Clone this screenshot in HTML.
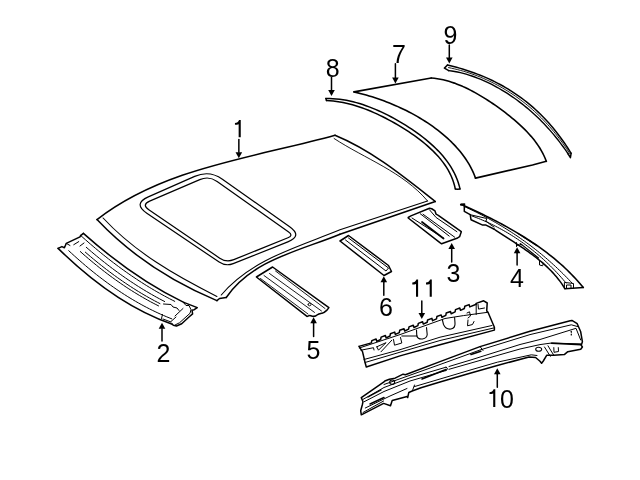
<!DOCTYPE html>
<html><head><meta charset="utf-8"><style>
html,body{margin:0;padding:0;background:#fff;}
svg{position:absolute;left:0;top:0;}
text{font-family:"Liberation Sans",sans-serif;font-size:25px;fill:#000;}
svg{will-change:transform;}
</style></head><body>
<svg width="640" height="480" viewBox="0 0 640 480">
<g stroke="#000" stroke-linejoin="round" stroke-linecap="round">
<path d="M97.00,219.60 C164.45,167.16 255.20,157.53 335.00,135.30" stroke-width="1.5" fill="none"/>
<path d="M335.00,135.30 C372.33,150.74 403.88,176.76 435.30,201.50" stroke-width="1.5" fill="none"/>
<path d="M435.30,201.50 L340.00,234.20" stroke-width="1.5" fill="none"/>
<path d="M340.00,234.20 C300.43,250.58 252.28,259.57 226.25,297.50" stroke-width="1.5" fill="none"/>
<path d="M226.25,297.50 L219.50,298.50 L216.90,300.60" stroke-width="1.5" fill="none"/>
<path d="M216.90,300.60 C172.03,281.83 130.54,255.04 97.00,219.60" stroke-width="1.5" fill="none"/>
<path d="M103.10,218.00 C135.07,252.40 175.35,275.65 216.90,296.40" stroke-width="1.1" fill="none"/>
<path d="M221.25,295.00 C251.35,259.20 298.55,246.79 340.00,229.80 L427.5,200.9" stroke-width="1.1" fill="none"/>
<path d="M427.50,200.90 C402.76,171.67 365.18,158.91 334.10,138.50" stroke-width="0.9" fill="none"/>
<path d="M146.82,213.20 Q132.73,203.68 148.29,196.83 L194.69,176.39 Q209.33,169.94 222.39,179.18 L289.65,226.77 Q302.71,236.01 287.84,241.91 L233.20,263.58 Q225.77,266.53 219.14,262.05Z" stroke-width="1.2" fill="none"/>
<path d="M148.82,209.80 Q141.38,204.73 149.65,201.17 L199.77,179.62 Q208.95,175.67 217.12,181.45 L288.64,232.05 Q293.53,235.51 287.97,237.76 L233.77,259.66 Q226.35,262.65 219.74,258.15Z" stroke-width="1.2" fill="none"/>
<path d="M354.00,91.90 L431.25,78.00" stroke-width="1.6" fill="none"/>
<path d="M431.25,78.00 L434.32,78.30 L437.33,78.71 L440.28,79.22 L443.19,79.83 L446.06,80.53 L448.88,81.31 L451.67,82.18 L454.43,83.12 L457.15,84.14 L459.84,85.22 L462.51,86.36 L465.15,87.57 L467.77,88.83 L470.38,90.14 L472.96,91.49 L475.52,92.90 L478.07,94.34 L480.60,95.83 L483.12,97.35 L485.62,98.91 L488.11,100.50 L490.59,102.12 L493.04,103.78 L495.49,105.46 L497.91,107.17 L500.32,108.91 L502.71,110.68 L505.08,112.48 L507.43,114.30 L509.76,116.15 L512.06,118.02 L514.33,119.93 L516.57,121.86 L518.78,123.83 L520.95,125.82 L523.08,127.85 L525.16,129.92 L527.20,132.02 L529.19,134.17 L531.12,136.35 L532.99,138.59 L534.80,140.87 L536.54,143.20 L538.20,145.59 L539.79,148.03 L541.28,150.54 L542.69,153.12 L544.00,155.77 L545.21,158.49 L546.30,161.30" stroke-width="1.6" fill="none"/>
<path d="M546.30,161.30 L532.50,165.00 L475.50,178.10" stroke-width="1.6" fill="none"/>
<path d="M354.00,91.90 L357.08,92.65 L360.14,93.43 L363.17,94.24 L366.17,95.08 L369.15,95.95 L372.11,96.86 L375.04,97.80 L377.96,98.78 L380.86,99.79 L383.74,100.84 L386.61,101.92 L389.46,103.04 L392.29,104.20 L395.11,105.40 L397.92,106.63 L400.71,107.91 L403.48,109.22 L406.24,110.58 L408.98,111.97 L411.71,113.41 L414.42,114.89 L417.11,116.41 L419.78,117.97 L422.43,119.58 L425.05,121.23 L427.66,122.93 L430.23,124.67 L432.78,126.46 L435.30,128.29 L437.78,130.17 L440.23,132.09 L442.64,134.07 L445.01,136.09 L447.34,138.16 L449.62,140.27 L451.85,142.44 L454.02,144.65 L456.14,146.92 L458.20,149.23 L460.19,151.60 L462.11,154.02 L463.96,156.48 L465.72,159.00 L467.41,161.57 L469.01,164.19 L470.51,166.87 L471.92,169.60 L473.23,172.38 L474.42,175.21 L475.50,178.10" stroke-width="1.6" fill="none"/>
<path d="M325.90,98.50 L329.41,98.50 L332.89,98.63 L336.32,98.88 L339.72,99.25 L343.08,99.72 L346.42,100.30 L349.72,100.98 L353.01,101.75 L356.27,102.61 L359.51,103.56 L362.72,104.58 L365.93,105.68 L369.11,106.85 L372.27,108.08 L375.42,109.39 L378.55,110.75 L381.67,112.17 L384.77,113.65 L387.85,115.18 L390.92,116.76 L393.96,118.39 L396.98,120.08 L399.99,121.80 L402.97,123.58 L405.92,125.40 L408.84,127.26 L411.73,129.17 L414.59,131.12 L417.42,133.12 L420.20,135.17 L422.94,137.26 L425.63,139.40 L428.27,141.58 L430.85,143.82 L433.37,146.11 L435.83,148.46 L438.21,150.86 L440.52,153.33 L442.75,155.85 L444.89,158.44 L446.94,161.11 L448.89,163.84 L450.73,166.65 L452.45,169.55 L454.06,172.53 L455.53,175.60 L456.87,178.77 L458.07,182.04 L459.12,185.41 L460.00,188.90" stroke-width="1.5" fill="none"/>
<path d="M326.50,100.60 L329.90,100.76 L333.26,101.04 L336.56,101.43 L339.83,101.91 L343.06,102.50 L346.25,103.17 L349.41,103.93 L352.54,104.77 L355.65,105.69 L358.73,106.68 L361.80,107.74 L364.84,108.86 L367.87,110.04 L370.88,111.29 L373.88,112.58 L376.87,113.93 L379.84,115.33 L382.79,116.78 L385.74,118.27 L388.67,119.81 L391.58,121.39 L394.48,123.01 L397.36,124.67 L400.22,126.38 L403.06,128.12 L405.88,129.90 L408.67,131.73 L411.43,133.59 L414.16,135.49 L416.86,137.44 L419.52,139.43 L422.13,141.46 L424.69,143.54 L427.21,145.67 L429.66,147.85 L432.05,150.08 L434.38,152.37 L436.63,154.71 L438.80,157.12 L440.88,159.60 L442.87,162.14 L444.76,164.76 L446.54,167.45 L448.21,170.23 L449.75,173.09 L451.16,176.05 L452.43,179.10 L453.55,182.26 L454.51,185.52 L455.30,188.90" stroke-width="1.5" fill="none"/>
<path d="M455.30,188.90 L457.50,189.30 L460.00,188.90" stroke-width="1.5" fill="none"/>
<path d="M325.90,98.50 L326.50,100.60" stroke-width="1.5" fill="none"/>
<path d="M447.50,65.00 L450.51,65.73 L453.52,66.49 L456.52,67.30 L459.52,68.15 L462.52,69.03 L465.50,69.96 L468.48,70.93 L471.44,71.94 L474.40,73.00 L477.33,74.10 L480.25,75.24 L483.16,76.43 L486.04,77.66 L488.91,78.94 L491.75,80.27 L494.57,81.64 L497.36,83.06 L500.13,84.52 L502.88,86.03 L505.59,87.58 L508.28,89.18 L510.94,90.83 L513.56,92.52 L516.16,94.26 L518.72,96.04 L521.25,97.87 L523.75,99.74 L526.22,101.66 L528.64,103.62 L531.04,105.62 L533.39,107.66 L535.71,109.75 L538.00,111.88 L540.25,114.04 L542.46,116.25 L544.63,118.49 L546.76,120.77 L548.86,123.09 L550.92,125.44 L552.94,127.83 L554.92,130.25 L556.87,132.70 L558.78,135.19 L560.65,137.70 L562.48,140.24 L564.28,142.80 L566.04,145.39 L567.76,148.01 L569.45,150.64 L571.10,153.30" stroke-width="1.5" fill="none"/>
<path d="M448.75,70.60 L451.67,71.00 L454.58,71.48 L457.49,72.04 L460.39,72.68 L463.27,73.40 L466.15,74.20 L469.01,75.06 L471.86,75.99 L474.69,76.99 L477.50,78.05 L480.30,79.17 L483.07,80.35 L485.83,81.58 L488.56,82.87 L491.27,84.21 L493.95,85.60 L496.62,87.03 L499.25,88.51 L501.86,90.04 L504.44,91.61 L507.00,93.21 L509.53,94.86 L512.02,96.55 L514.49,98.27 L516.93,100.02 L519.34,101.82 L521.72,103.64 L524.07,105.50 L526.38,107.39 L528.67,109.31 L530.93,111.26 L533.15,113.24 L535.34,115.25 L537.51,117.29 L539.64,119.36 L541.74,121.46 L543.81,123.59 L545.85,125.74 L547.86,127.93 L549.84,130.14 L551.80,132.38 L553.72,134.66 L555.62,136.96 L557.49,139.30 L559.34,141.66 L561.16,144.06 L562.95,146.49 L564.72,148.96 L566.47,151.46 L568.20,154.00" stroke-width="1.4" fill="none"/>
<path d="M448.50,67.60 L451.46,68.20 L454.42,68.86 L457.37,69.57 L460.32,70.35 L463.26,71.17 L466.18,72.05 L469.09,72.98 L471.99,73.97 L474.88,75.00 L477.74,76.09 L480.59,77.23 L483.42,78.42 L486.23,79.66 L489.02,80.94 L491.79,82.27 L494.54,83.65 L497.26,85.07 L499.95,86.54 L502.62,88.06 L505.26,89.62 L507.88,91.22 L510.46,92.86 L513.02,94.55 L515.54,96.27 L518.04,98.04 L520.51,99.85 L522.94,101.70 L525.34,103.58 L527.71,105.50 L530.05,107.46 L532.35,109.46 L534.62,111.49 L536.86,113.56 L539.06,115.67 L541.23,117.80 L543.37,119.98 L545.47,122.18 L547.54,124.42 L549.58,126.69 L551.58,128.99 L553.54,131.32 L555.48,133.68 L557.38,136.07 L559.25,138.49 L561.09,140.94 L562.89,143.42 L564.66,145.92 L566.41,148.46 L568.12,151.02 L569.80,153.60" stroke-width="0.9" fill="none"/>
<path d="M571.10,153.30 L570.40,157.70 L568.20,154.00" stroke-width="1.5" fill="none"/>
<path d="M447.50,65.00 L444.40,68.10 L448.75,70.60" stroke-width="1.5" fill="none"/>
<path d="M58.10,248.40 L61.90,246.60 L64.40,247.80 L65.60,245.00 L66.25,243.40 L80.00,236.90 L80.60,235.60 L83.40,233.40" stroke-width="1.5" fill="none"/>
<path d="M83.4,233.4 Q133.6,278.1 183.75,302.4" stroke-width="1.5" fill="none"/>
<path d="M183.75,302.40 L197.30,307.60 L194.20,309.70 L192.00,310.20 L192.60,313.90 L189.00,317.00 L181.70,323.75 L176.50,326.00 L173.30,325.30 L172.30,324.30" stroke-width="1.5" fill="none"/>
<path d="M58.1,248.4 Q115.2,304.4 172.3,324.3" stroke-width="1.5" fill="none"/>
<path d="M80.36,235.20 L82.92,237.49 L85.47,239.75 L88.02,241.98 L90.57,244.19 L93.12,246.37 L95.67,248.52 L98.22,250.64 L100.77,252.73 L103.32,254.80 L105.88,256.84 L108.43,258.85 L110.98,260.83 L113.53,262.78 L116.08,264.71 L118.63,266.61 L121.18,268.48 L123.73,270.32 L126.28,272.14 L128.83,273.93 L131.38,275.69 L133.93,277.42 L136.48,279.12 L139.03,280.80 L141.58,282.44 L144.13,284.07 L146.68,285.66 L149.23,287.22 L151.78,288.76 L154.33,290.27 L156.88,291.75 L159.43,293.20 L161.98,294.63 L164.53,296.03 L167.08,297.40 L169.63,298.74 L172.18,300.05 L174.73,301.34" stroke-width="1.0" fill="none"/>
<path d="M86.26,247.27 L88.88,249.53 L91.49,251.76 L94.10,253.96 L96.72,256.13 L99.33,258.27 L101.94,260.38 L104.56,262.45 L107.17,264.49 L109.78,266.51 L112.39,268.49 L115.01,270.44 L117.62,272.35 L120.23,274.24 L122.85,276.10 L125.46,277.92 L128.07,279.71 L130.68,281.47 L133.30,283.20 L135.91,284.90 L138.52,286.57 L141.13,288.20 L143.75,289.81 L146.36,291.38 L148.97,292.92 L151.58,294.43 L154.20,295.91 L156.81,297.36 L159.42,298.77 L162.03,300.16 L164.64,301.51" stroke-width="1.0" fill="none"/>
<path d="M85.34,252.17 L88.01,254.47 L90.67,256.73 L93.34,258.97 L96.00,261.16 L98.67,263.33 L101.33,265.45 L104.00,267.55 L106.66,269.61 L109.33,271.64 L111.99,273.63 L114.65,275.58 L117.32,277.51 L119.98,279.39 L122.65,281.25 L125.31,283.07 L127.98,284.85 L130.64,286.61 L133.31,288.32 L135.97,290.00 L138.64,291.65 L141.30,293.27 L143.96,294.85 L146.63,296.39 L149.29,297.90 L151.96,299.38 L154.62,300.82 L157.29,302.23 L159.95,303.60" stroke-width="1.0" fill="none"/>
<path d="M80.28,251.54 L82.98,253.93 L85.68,256.27 L88.38,258.58 L91.08,260.85 L93.78,263.09 L96.48,265.29 L99.18,267.46 L101.88,269.59 L104.58,271.68 L107.28,273.73 L109.98,275.75 L112.68,277.74 L115.38,279.68 L118.08,281.59 L120.78,283.47 L123.47,285.31 L126.17,287.11 L128.87,288.87 L131.57,290.60 L134.27,292.30 L136.97,293.95 L139.67,295.57 L142.37,297.16 L145.07,298.70 L147.77,300.22 L150.46,301.69 L153.16,303.13 L155.86,304.53 L158.56,305.90" stroke-width="1.0" fill="none"/>
<path d="M68.73,250.69 L71.52,253.28 L74.30,255.82 L77.09,258.32 L79.88,260.78 L82.66,263.20 L85.45,265.58 L88.23,267.91 L91.02,270.21 L93.81,272.46 L96.59,274.68 L99.38,276.85 L102.16,278.98 L104.95,281.07 L107.73,283.12 L110.52,285.13 L113.31,287.09 L116.09,289.02 L118.88,290.90 L121.66,292.74 L124.45,294.54 L127.23,296.30 L130.02,298.02 L132.81,299.70 L135.59,301.34 L138.38,302.93 L141.16,304.49 L143.95,306.00 L146.73,307.47 L149.52,308.90 L152.31,310.29 L155.09,311.64 L157.88,312.94 L160.66,314.21 L163.45,315.43 L166.23,316.62 L169.02,317.76 L171.80,318.86" stroke-width="1.0" fill="none"/>
<path d="M73.75,244.70 L78.75,241.60" stroke-width="1.0" fill="none"/>
<path d="M80.00,246.00 L84.00,243.00" stroke-width="1.0" fill="none"/>
<path d="M66.50,243.50 L70.00,245.50" stroke-width="1.0" fill="none"/>
<path d="M163.50,304.00 L171.00,304.50 L173.00,307.00 L177.00,308.00 L179.00,310.50" stroke-width="1.0" fill="none"/>
<path d="M183.50,302.50 L186.00,305.50 L189.00,305.50 L191.00,309.70 L190.00,313.30 L187.00,316.00 L179.60,322.70 L175.40,324.80" stroke-width="1.0" fill="none"/>
<path d="M175.00,316.00 L183.00,308.50" stroke-width="1.0" fill="none"/>
<path d="M161.50,318.50 L162.50,314.50" stroke-width="1.0" fill="none"/>
<path d="M163.00,319.00 L171.00,322.00" stroke-width="1.0" fill="none"/>
<path d="M171.00,321.50 L176.00,317.00" stroke-width="1.0" fill="none"/>
<path d="M256.4,277 L272.6,267 L328.9,307.6 L327,310.1 C325.5,311.5 324,312.8 322,313.25 C320,313.6 318.5,313.8 317,315 C315.5,316.6 313,316.6 310.75,315.75 C309,315.2 308,316.2 307,316.4 Z" stroke-width="1.5" fill="none"/>
<path d="M260.50,278.50 L308.00,314.00" stroke-width="0.9" fill="none"/>
<path d="M264.00,275.50 L314.50,312.40" stroke-width="0.9" fill="none"/>
<path d="M269.50,273.50 L321.50,311.00" stroke-width="0.9" fill="none"/>
<path d="M275.50,271.00 L325.00,308.50" stroke-width="0.9" fill="none"/>
<path d="M308,304.5 a1.5,1.3 0 1,0 3,0 a1.5,1.3 0 1,0 -3,0" stroke-width="0.9" fill="none"/>
<path d="M340.00,241.00 L348.50,235.50 L388.50,265.50 L391.50,271.50 L384.00,275.50 L340.00,241.00" stroke-width="1.5" fill="none"/>
<path d="M345.50,240.00 L386.00,271.00 L388.50,268.00 L348.50,238.00" stroke-width="1.0" fill="none"/>
<path d="M408.20,217.50 L410.90,215.90 L429.50,208.20 L431.70,208.75 L435.00,210.90 L436.10,214.20 L438.30,215.30 L461.30,231.70 L459.60,236.65 L456.90,238.30 L441.60,243.80 L439.90,242.70 L408.20,218.00" stroke-width="1.5" fill="none"/>
<path d="M412.00,218.00 L443.80,238.30" stroke-width="1.0" fill="none"/>
<path d="M422.00,222.00 L443.50,238.50" stroke-width="1.7" fill="none"/>
<path d="M420.20,213.70 L449.20,236.10" stroke-width="1.0" fill="none"/>
<path d="M423.00,214.20 L454.70,237.20" stroke-width="1.0" fill="none"/>
<path d="M429.50,209.80 L436.10,217.50 L456.90,231.70" stroke-width="1.0" fill="none"/>
<path d="M461.00,204.70 L464.30,204.25" stroke-width="2.2" fill="none"/>
<path d="M461.60,204.50 L464.29,205.72 L466.97,206.95 L469.66,208.20 L472.34,209.45 L475.02,210.71 L477.71,211.99 L480.38,213.27 L483.06,214.57 L485.73,215.89 L488.40,217.21 L491.06,218.55 L493.71,219.91 L496.36,221.28 L499.00,222.66 L501.63,224.07 L504.26,225.49 L506.87,226.92 L509.47,228.38 L512.07,229.85 L514.65,231.34 L517.22,232.85 L519.77,234.39 L522.32,235.94 L524.84,237.51 L527.36,239.10 L529.85,240.72 L532.34,242.36 L534.80,244.02 L537.25,245.71 L539.67,247.42 L542.08,249.15 L544.47,250.91 L546.84,252.70 L549.19,254.51 L551.51,256.35 L553.81,258.21 L556.09,260.11 L558.35,262.03 L560.58,263.98 L562.79,265.96 L564.97,267.97 L567.12,270.01 L569.24,272.08 L571.34,274.19 L573.41,276.32 L575.45,278.49 L577.46,280.69 L579.44,282.93 L581.39,285.20 L583.30,287.50" stroke-width="1.6" fill="none"/>
<path d="M583.30,287.50 L564.90,288.70" stroke-width="1.5" fill="none"/>
<path d="M494.30,229.25 L495.83,230.28 L497.36,231.30 L498.90,232.33 L500.44,233.34 L502.00,234.36 L503.55,235.38 L505.11,236.39 L506.68,237.40 L508.25,238.42 L509.82,239.43 L511.39,240.45 L512.96,241.47 L514.53,242.49 L516.10,243.52 L517.66,244.55 L519.23,245.58 L520.79,246.62 L522.34,247.67 L523.89,248.73 L525.43,249.79 L526.97,250.86 L528.50,251.94 L530.02,253.03 L531.53,254.13 L533.03,255.25 L534.52,256.37 L536.00,257.51 L537.46,258.66 L538.92,259.82 L540.35,261.00 L541.78,262.19 L543.18,263.40 L544.57,264.63 L545.95,265.88 L547.30,267.14 L548.64,268.42 L549.95,269.72 L551.25,271.04 L552.52,272.38 L553.78,273.74 L555.01,275.13 L556.21,276.54 L557.39,277.97 L558.55,279.42 L559.68,280.90 L560.78,282.41 L561.85,283.94 L562.90,285.50 L563.92,287.08 L564.90,288.70" stroke-width="1.5" fill="none"/>
<path d="M464.30,205.90 L464.30,211.30 L470.20,214.70 L471.00,219.70 L482.70,225.10 L486.00,225.10 L494.30,229.25" stroke-width="1.5" fill="none"/>
<path d="M464.29,206.51 L466.76,207.63 L469.21,208.78 L471.65,209.94 L474.08,211.12 L476.50,212.31 L478.91,213.52 L481.31,214.75 L483.69,215.99 L486.07,217.25 L488.43,218.53 L490.78,219.83 L493.12,221.14 L495.45,222.47 L497.76,223.81 L500.07,225.17 L502.36,226.55 L504.64,227.95 L506.90,229.36 L509.16,230.79 L511.40,232.23 L513.63,233.70 L515.85,235.18 L518.05,236.67 L520.24,238.19 L522.42,239.72 L524.59,241.26 L526.74,242.83 L528.88,244.41 L531.01,246.01 L533.12,247.62 L535.22,249.26 L537.31,250.90 L539.38,252.57 L541.44,254.25 L543.49,255.96 L545.52,257.67 L547.54,259.41 L549.54,261.16 L551.53,262.93 L553.51,264.72 L555.47,266.52 L557.42,268.34 L559.35,270.18 L561.27,272.03 L563.17,273.90 L565.06,275.79 L566.94,277.70 L568.80,279.62 L570.65,281.57 L572.48,283.52" stroke-width="1.0" fill="none"/>
<path d="M471.80,215.90 L474.01,216.72 L476.20,217.56 L478.39,218.42 L480.57,219.31 L482.73,220.23 L484.88,221.16 L487.02,222.12 L489.15,223.11 L491.27,224.11 L493.37,225.14 L495.47,226.20 L497.55,227.27 L499.61,228.37 L501.67,229.49 L503.71,230.63 L505.74,231.79 L507.76,232.98 L509.76,234.19 L511.75,235.41 L513.72,236.66 L515.69,237.93 L517.63,239.22 L519.57,240.54 L521.49,241.87 L523.40,243.22 L525.29,244.59 L527.16,245.98 L529.03,247.39 L530.87,248.82 L532.71,250.27 L534.52,251.74 L536.33,253.23 L538.11,254.73 L539.88,256.26 L541.64,257.80 L543.38,259.36 L545.10,260.94 L546.81,262.54 L548.50,264.15 L550.18,265.78 L551.84,267.43 L553.48,269.10 L555.10,270.78 L556.71,272.48 L558.30,274.19 L559.87,275.92 L561.43,277.67 L562.97,279.44 L564.49,281.21 L565.99,283.01" stroke-width="1.0" fill="none"/>
<path d="M470.20,214.70 L486.80,218.50 L486.00,221.00" stroke-width="1.0" fill="none"/>
<path d="M486.00,221.00 L491.00,225.10 L494.00,227.00" stroke-width="1.0" fill="none"/>
<path d="M518.00,233.40 L537.00,245.80" stroke-width="1.2" fill="none"/>
<path d="M520.50,243.60 L538.50,258.00" stroke-width="1.2" fill="none"/>
<path d="M564.40,288.50 L564.40,282.40 L573.50,283.50 L573.50,288.10" stroke-width="1.0" fill="none"/>
<path d="M566.50,288.00 L566.50,285.00 L571.00,285.00 L571.00,288.00" stroke-width="1.0" fill="none"/>
<path d="M539.50,261.00 L539.50,265.00 L542.60,265.80 L543.50,263.20" stroke-width="1.0" fill="none"/>
<path d="M516.50,242.60 L516.50,246.50" stroke-width="1.0" fill="none"/>
<path d="M517.00,245.50 L519.50,244.20 L522.00,245.00" stroke-width="1.0" fill="none"/>
<path d="M358.90,346.40 L371.40,342.90 L371.80,340.60 L376.10,339.01 L376.80,341.31 L380.70,339.46 L381.10,337.16 L385.40,335.57 L386.10,337.87 L390.00,336.02 L390.40,333.72 L394.70,332.13 L395.40,334.43 L399.30,332.58 L399.70,330.28 L404.00,328.69 L404.70,330.99 L408.60,329.14 L409.00,326.84 L413.30,325.25 L414.00,327.55 L417.90,325.69 L418.30,323.39 L422.60,321.80 L423.30,324.10 L427.20,322.25 L427.60,319.95 L431.90,318.36 L432.60,320.66 L436.50,318.81 L436.90,316.51 L441.20,314.92 L441.90,317.22 L445.80,315.37 L446.20,313.07 L450.50,311.48 L451.20,313.78 L455.10,311.93 L455.50,309.63 L459.80,308.04 L460.50,310.34 L464.40,308.49 L464.80,306.19 L469.10,304.60 L469.80,306.90 L476.20,304.27 L476.20,303.40 L483.70,300.80 L487.20,303.00 L486.70,310.90 L488.00,312.20 L494.40,327.30 L494.40,330.10 L440.00,344.70 L400.00,355.90 L366.30,367.00 L365.20,363.00 L362.50,351.70 L358.90,346.40" stroke-width="1.5" fill="none"/>
<path d="M359.30,348.00 L400.00,334.60 L445.00,318.50 L463.40,315.60 L487.80,312.30" stroke-width="1.0" fill="none"/>
<path d="M361.00,350.20 L373.50,347.70 L374.00,350.00" stroke-width="1.0" fill="none"/>
<path d="M364.00,359.50 L400.00,349.70 L440.00,337.20 L492.00,325.50" stroke-width="1.0" fill="none"/>
<path d="M365.00,362.50 L400.00,352.20 L440.00,340.50 L494.40,327.80" stroke-width="1.0" fill="none"/>
<path d="M376.80,346.80 L386.00,342.70 L378.50,350.20 L376.80,346.80" stroke-width="1.0" fill="none"/>
<path d="M381.00,351.80 L391.80,340.20" stroke-width="1.0" fill="none"/>
<path d="M393.50,339.50 L394.50,345.20 L401.80,343.00 L400.50,337.50" stroke-width="1.0" fill="none"/>
<path d="M401.80,336.00 L417.30,336.00" stroke-width="1.0" fill="none"/>
<path d="M416.5,330 L416.8,336 Q418,339.5 422.5,339 Q427,338.2 427.2,334.5 L426.5,327.5" stroke-width="1.1" fill="none"/>
<path d="M442.3,319.5 L443.5,324.5 Q446,329.8 451,329 Q455.5,328 455,323 L454.6,317.5" stroke-width="1.1" fill="none"/>
<path d="M467.00,313.00 L469.50,311.80 L470.50,316.00 L468.00,318.00" stroke-width="1.0" fill="none"/>
<path d="M468.00,320.00 L467.50,325.80 L472.50,324.50 L474.00,321.50" stroke-width="1.0" fill="none"/>
<path d="M476.20,303.40 L476.20,314.50" stroke-width="1.0" fill="none"/>
<path d="M478.00,304.30 L478.50,309.10 L484.50,308.00" stroke-width="1.0" fill="none"/>
<path d="M361.30,397.60 L383.60,382.20 L384.80,381.00 L389.40,379.30 L395.10,378.20 L403.10,374.20 L405.40,374.70 L440.00,361.60 L480.00,346.60 L530.00,331.30 L570.20,320.75 L571.90,320.40 L577.20,323.70 L580.70,331.80 L582.40,341.75 L581.25,345.25 L582.40,347.00 L580.70,349.30 L567.80,351.70 L564.30,354.60 L553.80,355.20 L546.80,355.20 L543.30,361.00 L541.60,363.30 L540.00,361.30 L535.60,357.50 L529.00,357.00 L497.30,365.50 L470.00,373.30 L440.00,382.00 L421.00,387.70 L412.20,391.00 L408.80,392.50 L407.70,397.60 L407.10,396.50 L392.20,400.50 L390.50,405.70 L383.60,403.40 L361.30,414.80 L360.70,410.80 L362.40,404.50 L363.00,401.70 L361.30,397.60" stroke-width="1.5" fill="none"/>
<path d="M384.00,384.50 L405.00,377.00 L440.00,364.50 L480.00,350.00 L530.00,334.60 L571.30,324.80 L577.75,326.60" stroke-width="1.0" fill="none"/>
<path d="M363.00,399.40 L384.00,387.50 L410.00,377.80 L446.00,367.20" stroke-width="1.0" fill="none"/>
<path d="M364.20,401.70 L384.00,391.50 L410.00,381.00 L446.00,370.50" stroke-width="1.0" fill="none"/>
<path d="M446,367.2 Q449.5,368.5 446,370.5" stroke-width="1.0" fill="none"/>
<path d="M422.00,378.90 L446.00,369.40" stroke-width="1.6" fill="none"/>
<path d="M449.00,366.50 L470.00,360.20 L520.00,344.50 L540.00,339.50 L576.00,328.30 L580.70,340.00" stroke-width="1.0" fill="none"/>
<path d="M449.00,369.30 L470.00,363.30 L520.00,349.00 L540.00,344.60 L551.50,343.00 L581.00,344.00" stroke-width="1.0" fill="none"/>
<path d="M551.50,343.20 L581.00,344.60" stroke-width="1.6" fill="none"/>
<path d="M365.30,408.00 L390.00,396.00 L407.00,388.50" stroke-width="1.0" fill="none"/>
<path d="M414.40,386.60 L440.00,379.00 L470.00,370.10 L497.30,362.20 L531.30,354.80 L537.00,355.50" stroke-width="1.0" fill="none"/>
<path d="M363.00,412.50 L383.60,401.00" stroke-width="1.0" fill="none"/>
<path d="M471.00,354.50 L480.80,351.20" stroke-width="1.6" fill="none"/>
<path d="M370.00,404.00 L384.00,397.50" stroke-width="1.5" fill="none"/>
<path d="M368.00,397.00 L381.00,390.00" stroke-width="1.4" fill="none"/>
<path d="M480.00,346.50 L483.00,350.50" stroke-width="1.0" fill="none"/>
<path d="M389.7,382.2 a2.5,2.2 0 1,0 5,0 a2.5,2.2 0 1,0 -5,0" stroke-width="1.1" fill="none"/>
<path d="M535.7,349.3 a3,2 0 1,0 6,0 a3,2 0 1,0 -6,0" stroke-width="1.1" fill="none"/>
<path d="M544.50,347.00 L547.00,351.00 L550.30,356.30" stroke-width="1.0" fill="none"/>
<path d="M548.00,345.80 L550.50,350.00 L553.80,355.20" stroke-width="1.0" fill="none"/>
<path d="M553.80,347.60 L554.00,352.30 L558.50,351.50 L558.30,347.60" stroke-width="1.0" fill="none"/>
<path d="M571.30,331.30 L571.30,332.30" stroke-width="1.2" fill="none"/>
<path d="M571.30,334.00 L571.30,335.00" stroke-width="1.2" fill="none"/>
<path d="M412.50,390.50 L414.50,385.00" stroke-width="1.0" fill="none"/>
<path d="M238.85,139.5 L238.85,152.29999999999998" stroke-width="1.5" fill="none"/>
<path d="M235.54999999999998,152.29999999999998 L242.15,152.29999999999998 L238.85,158.2Z" stroke="none" fill="#000"/>
<path d="M162,341 L162,328.65" stroke-width="1.5" fill="none"/>
<path d="M158.7,328.65 L165.3,328.65 L162,322.75Z" stroke="none" fill="#000"/>
<path d="M451.7,261.9 L451.7,248.9" stroke-width="1.5" fill="none"/>
<path d="M448.4,248.9 L455.0,248.9 L451.7,243Z" stroke="none" fill="#000"/>
<path d="M517.1,265.1 L517.1,253.15" stroke-width="1.5" fill="none"/>
<path d="M513.8000000000001,253.15 L520.4,253.15 L517.1,247.25Z" stroke="none" fill="#000"/>
<path d="M313.6,336.4 L313.6,323.15" stroke-width="1.5" fill="none"/>
<path d="M310.3,323.15 L316.90000000000003,323.15 L313.6,317.25Z" stroke="none" fill="#000"/>
<path d="M383.8,295.3 L383.8,282.15" stroke-width="1.5" fill="none"/>
<path d="M380.5,282.15 L387.1,282.15 L383.8,276.25Z" stroke="none" fill="#000"/>
<path d="M395.4,63.75 L395.4,77.6" stroke-width="1.5" fill="none"/>
<path d="M392.09999999999997,77.6 L398.7,77.6 L395.4,83.5Z" stroke="none" fill="#000"/>
<path d="M331.5,77.6 L331.5,90.1" stroke-width="1.5" fill="none"/>
<path d="M328.2,90.1 L334.8,90.1 L331.5,96Z" stroke="none" fill="#000"/>
<path d="M449.3,45 L449.3,57.6" stroke-width="1.5" fill="none"/>
<path d="M446.0,57.6 L452.6,57.6 L449.3,63.5Z" stroke="none" fill="#000"/>
<path d="M497.3,387.3 L497.3,374.15" stroke-width="1.5" fill="none"/>
<path d="M494.0,374.15 L500.6,374.15 L497.3,368.25Z" stroke="none" fill="#000"/>
<path d="M421.8,300.9 L421.8,313.1" stroke-width="1.5" fill="none"/>
<path d="M418.5,313.1 L425.1,313.1 L421.8,319Z" stroke="none" fill="#000"/>
</g>
<path d="M240.75,119.90 L240.75,137.35 L238.65,137.35 L238.65,124.20 C237.65,124.60 236.25,124.80 234.95,124.80 L234.95,122.90 C236.95,122.80 238.35,121.70 239.05,119.90 Z" fill="#000" stroke="none"/>
<path d="M418.10,279.60 L418.10,296.80 L416.00,296.80 L416.00,283.90 C415.00,284.30 413.60,284.50 412.30,284.50 L412.30,282.60 C414.30,282.50 415.70,281.40 416.40,279.60 Z" fill="#000" stroke="none"/>
<path d="M431.80,279.60 L431.80,296.80 L429.70,296.80 L429.70,283.90 C428.70,284.30 427.30,284.50 426.00,284.50 L426.00,282.60 C428.00,282.50 429.40,281.40 430.10,279.60 Z" fill="#000" stroke="none"/>
<path d="M495.30,389.20 L495.30,407.00 L493.20,407.00 L493.20,393.50 C492.20,393.90 490.80,394.10 489.50,394.10 L489.50,392.20 C491.50,392.10 492.90,391.00 493.60,389.20 Z" fill="#000" stroke="none"/>
<text x="156.5" y="361.5">2</text>
<text x="446.5" y="281.5">3</text>
<text x="510" y="286.5">4</text>
<text x="306.6" y="358.5">5</text>
<text x="379" y="315.5">6</text>
<text x="392" y="63.3">7</text>
<text x="325.7" y="76.5">8</text>
<text x="443.5" y="44.3">9</text>
<text x="500" y="407.5">0</text>
</svg>
</body></html>
